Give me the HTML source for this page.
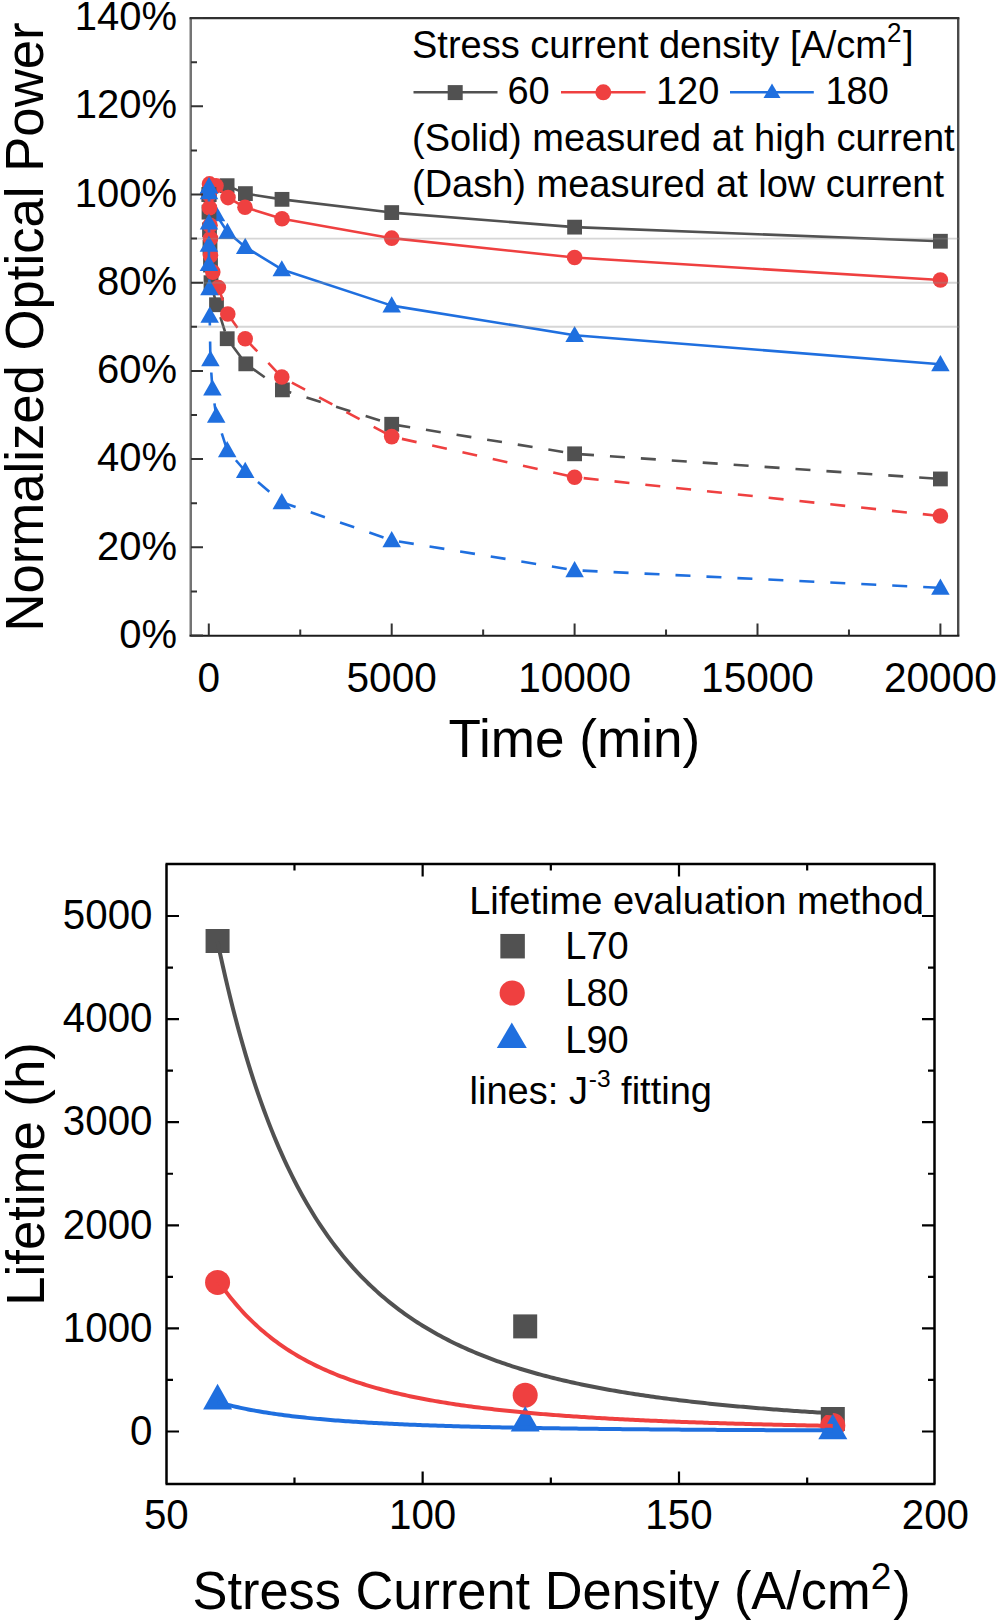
<!DOCTYPE html>
<html><head><meta charset="utf-8"><style>
html,body{margin:0;padding:0;background:#fff;}
svg{display:block;}
text{font-family:"Liberation Sans", sans-serif;fill:#000;}
</style></head><body>
<svg width="1000" height="1624" viewBox="0 0 1000 1624">
<rect width="1000" height="1624" fill="#fff"/>
<polyline points="209.00,194.50 227.10,185.68 245.40,193.62 282.00,199.35 391.70,212.58 574.60,227.13 940.40,241.25" fill="none" stroke="#515151" stroke-width="2.6" stroke-linejoin="round"/>
<rect x="201.60" y="187.10" width="14.8" height="14.8" fill="#515151"/><rect x="219.70" y="178.28" width="14.8" height="14.8" fill="#515151"/><rect x="238.00" y="186.22" width="14.8" height="14.8" fill="#515151"/><rect x="274.60" y="191.95" width="14.8" height="14.8" fill="#515151"/><rect x="384.30" y="205.18" width="14.8" height="14.8" fill="#515151"/><rect x="567.20" y="219.73" width="14.8" height="14.8" fill="#515151"/><rect x="933.00" y="233.85" width="14.8" height="14.8" fill="#515151"/>
<polyline points="209.00,194.50 209.50,183.92 216.00,185.68 228.00,197.59 245.00,207.29 282.00,218.75 391.70,238.16 574.60,257.56 940.40,280.05" fill="none" stroke="#EF4040" stroke-width="2.6" stroke-linejoin="round"/>
<circle cx="209.00" cy="194.50" r="7.8" fill="#EF4040"/><circle cx="209.50" cy="183.92" r="7.8" fill="#EF4040"/><circle cx="216.00" cy="185.68" r="7.8" fill="#EF4040"/><circle cx="228.00" cy="197.59" r="7.8" fill="#EF4040"/><circle cx="245.00" cy="207.29" r="7.8" fill="#EF4040"/><circle cx="282.00" cy="218.75" r="7.8" fill="#EF4040"/><circle cx="391.70" cy="238.16" r="7.8" fill="#EF4040"/><circle cx="574.60" cy="257.56" r="7.8" fill="#EF4040"/><circle cx="940.40" cy="280.05" r="7.8" fill="#EF4040"/>
<polyline points="209.00,186.56 216.00,214.34 227.40,231.99 245.20,246.98 281.80,269.47 391.70,305.63 574.60,335.18 940.40,364.28" fill="none" stroke="#1F6FDF" stroke-width="2.6" stroke-linejoin="round"/>
<path d="M209.00 177.26L218.25 193.46L199.75 193.46Z" fill="#1F6FDF"/><path d="M216.00 205.04L225.25 221.24L206.75 221.24Z" fill="#1F6FDF"/><path d="M227.40 222.69L236.65 238.89L218.15 238.89Z" fill="#1F6FDF"/><path d="M245.20 237.68L254.45 253.88L235.95 253.88Z" fill="#1F6FDF"/><path d="M281.80 260.17L291.05 276.37L272.55 276.37Z" fill="#1F6FDF"/><path d="M391.70 296.33L400.95 312.53L382.45 312.53Z" fill="#1F6FDF"/><path d="M574.60 325.88L583.85 342.08L565.35 342.08Z" fill="#1F6FDF"/><path d="M940.40 354.98L949.65 371.19L931.15 371.19Z" fill="#1F6FDF"/>
<polyline points="209.00,194.50 209.00,212.14 209.50,229.78 210.00,247.42 210.50,265.06 211.00,282.70 216.50,304.75 227.20,338.71 245.80,363.84 282.40,389.86 391.70,424.26 574.60,453.81 940.40,478.94" fill="none" stroke="#515151" stroke-width="2.6" stroke-dasharray="15 16" stroke-linejoin="round"/>
<rect x="201.60" y="187.10" width="14.8" height="14.8" fill="#515151"/><rect x="201.60" y="204.74" width="14.8" height="14.8" fill="#515151"/><rect x="202.10" y="222.38" width="14.8" height="14.8" fill="#515151"/><rect x="202.60" y="240.02" width="14.8" height="14.8" fill="#515151"/><rect x="203.10" y="257.66" width="14.8" height="14.8" fill="#515151"/><rect x="203.60" y="275.30" width="14.8" height="14.8" fill="#515151"/><rect x="209.10" y="297.35" width="14.8" height="14.8" fill="#515151"/><rect x="219.80" y="331.31" width="14.8" height="14.8" fill="#515151"/><rect x="238.40" y="356.44" width="14.8" height="14.8" fill="#515151"/><rect x="275.00" y="382.46" width="14.8" height="14.8" fill="#515151"/><rect x="384.30" y="416.86" width="14.8" height="14.8" fill="#515151"/><rect x="567.20" y="446.41" width="14.8" height="14.8" fill="#515151"/><rect x="933.00" y="471.55" width="14.8" height="14.8" fill="#515151"/>
<polyline points="209.00,194.50 209.50,207.73 210.00,225.37 210.50,238.60 210.50,255.36 212.80,272.12 218.30,287.55 227.80,314.01 245.20,338.71 281.80,377.07 391.70,436.61 574.60,477.18 940.40,515.99" fill="none" stroke="#EF4040" stroke-width="2.6" stroke-dasharray="15 16" stroke-linejoin="round"/>
<circle cx="209.00" cy="194.50" r="7.8" fill="#EF4040"/><circle cx="209.50" cy="207.73" r="7.8" fill="#EF4040"/><circle cx="210.00" cy="225.37" r="7.8" fill="#EF4040"/><circle cx="210.50" cy="238.60" r="7.8" fill="#EF4040"/><circle cx="210.50" cy="255.36" r="7.8" fill="#EF4040"/><circle cx="212.80" cy="272.12" r="7.8" fill="#EF4040"/><circle cx="218.30" cy="287.55" r="7.8" fill="#EF4040"/><circle cx="227.80" cy="314.01" r="7.8" fill="#EF4040"/><circle cx="245.20" cy="338.71" r="7.8" fill="#EF4040"/><circle cx="281.80" cy="377.07" r="7.8" fill="#EF4040"/><circle cx="391.70" cy="436.61" r="7.8" fill="#EF4040"/><circle cx="574.60" cy="477.18" r="7.8" fill="#EF4040"/><circle cx="940.40" cy="515.99" r="7.8" fill="#EF4040"/>
<polyline points="209.00,186.56 209.00,192.29 209.00,222.72 208.90,244.77 208.90,264.18 209.40,288.43 209.70,315.77 210.40,359.43 212.40,388.54 216.20,415.88 227.20,450.28 245.20,471.01 281.80,502.32 391.70,540.24 574.60,570.23 940.40,587.87" fill="none" stroke="#1F6FDF" stroke-width="2.6" stroke-dasharray="15 16" stroke-linejoin="round"/>
<path d="M209.00 177.26L218.25 193.46L199.75 193.46Z" fill="#1F6FDF"/><path d="M209.00 182.99L218.25 199.19L199.75 199.19Z" fill="#1F6FDF"/><path d="M209.00 213.42L218.25 229.62L199.75 229.62Z" fill="#1F6FDF"/><path d="M208.90 235.47L218.15 251.67L199.65 251.67Z" fill="#1F6FDF"/><path d="M208.90 254.88L218.15 271.08L199.65 271.08Z" fill="#1F6FDF"/><path d="M209.40 279.13L218.65 295.33L200.15 295.33Z" fill="#1F6FDF"/><path d="M209.70 306.47L218.95 322.68L200.45 322.68Z" fill="#1F6FDF"/><path d="M210.40 350.13L219.65 366.33L201.15 366.33Z" fill="#1F6FDF"/><path d="M212.40 379.24L221.65 395.44L203.15 395.44Z" fill="#1F6FDF"/><path d="M216.20 406.58L225.45 422.78L206.95 422.78Z" fill="#1F6FDF"/><path d="M227.20 440.98L236.45 457.18L217.95 457.18Z" fill="#1F6FDF"/><path d="M245.20 461.71L254.45 477.91L235.95 477.91Z" fill="#1F6FDF"/><path d="M281.80 493.02L291.05 509.22L272.55 509.22Z" fill="#1F6FDF"/><path d="M391.70 530.94L400.95 547.14L382.45 547.14Z" fill="#1F6FDF"/><path d="M574.60 560.93L583.85 577.13L565.35 577.13Z" fill="#1F6FDF"/><path d="M940.40 578.57L949.65 594.77L931.15 594.77Z" fill="#1F6FDF"/>
<line x1="191.0" y1="326.80" x2="959.4000000000001" y2="326.80" stroke="#8c8c8c" stroke-opacity="0.36" stroke-width="1.9"/>
<line x1="191.0" y1="282.70" x2="959.4000000000001" y2="282.70" stroke="#8c8c8c" stroke-opacity="0.36" stroke-width="1.9"/>
<line x1="191.0" y1="238.60" x2="959.4000000000001" y2="238.60" stroke="#8c8c8c" stroke-opacity="0.36" stroke-width="1.9"/>
<path d="M190.75 18.2V635.5" stroke="#747474" stroke-width="2.5"/>
<path d="M958.2 18.2V635.5" stroke="#4a4a4a" stroke-width="2.4"/>
<path d="M189.5 18.1H959.4" stroke="#303030" stroke-width="2.2"/>
<path d="M189.5 635.75H959.4" stroke="#1c1c1c" stroke-width="2.1"/>
<line x1="957.0" y1="326.80" x2="959.4000000000001" y2="326.80" stroke="#8c8c8c" stroke-opacity="0.36" stroke-width="1.9"/>
<line x1="957.0" y1="282.70" x2="959.4000000000001" y2="282.70" stroke="#8c8c8c" stroke-opacity="0.36" stroke-width="1.9"/>
<line x1="957.0" y1="238.60" x2="959.4000000000001" y2="238.60" stroke="#8c8c8c" stroke-opacity="0.36" stroke-width="1.9"/>
<path d="M191.0 635.50h12M191.0 591.40h6M191.0 547.30h12M191.0 503.20h6M191.0 459.10h12M191.0 415.00h6M191.0 370.90h12M191.0 326.80h6M191.0 282.70h12M191.0 238.60h6M191.0 194.50h12M191.0 150.40h6M191.0 106.30h12M191.0 62.20h6M191.0 18.10h12M208.80 635.5v-12M300.25 635.5v-6M391.70 635.5v-12M483.15 635.5v-6M574.60 635.5v-12M666.05 635.5v-6M757.50 635.5v-12M848.95 635.5v-6M940.40 635.5v-12" stroke="#333" stroke-width="2"/>
<text x="177.00" y="647.70" text-anchor="end" font-size="40.0" transform="matrix(1 0 0 1.035 0 -22.669)">0%</text>
<text x="177.00" y="559.50" text-anchor="end" font-size="40.0" transform="matrix(1 0 0 1.035 0 -19.582)">20%</text>
<text x="177.00" y="471.30" text-anchor="end" font-size="40.0" transform="matrix(1 0 0 1.035 0 -16.495)">40%</text>
<text x="177.00" y="383.10" text-anchor="end" font-size="40.0" transform="matrix(1 0 0 1.035 0 -13.408)">60%</text>
<text x="177.00" y="294.90" text-anchor="end" font-size="40.0" transform="matrix(1 0 0 1.035 0 -10.321)">80%</text>
<text x="177.00" y="206.70" text-anchor="end" font-size="40.0" transform="matrix(1 0 0 1.035 0 -7.234)">100%</text>
<text x="177.00" y="118.50" text-anchor="end" font-size="40.0" transform="matrix(1 0 0 1.035 0 -4.147)">120%</text>
<text x="177.00" y="30.30" text-anchor="end" font-size="40.0" transform="matrix(1 0 0 1.035 0 -1.060)">140%</text>
<text x="208.80" y="691.90" text-anchor="middle" font-size="40.6" transform="matrix(1 0 0 1.035 0 -24.216)">0</text>
<text x="391.70" y="691.90" text-anchor="middle" font-size="40.6" transform="matrix(1 0 0 1.035 0 -24.216)">5000</text>
<text x="574.60" y="691.90" text-anchor="middle" font-size="40.6" transform="matrix(1 0 0 1.035 0 -24.216)">10000</text>
<text x="757.50" y="691.90" text-anchor="middle" font-size="40.6" transform="matrix(1 0 0 1.035 0 -24.216)">15000</text>
<text x="940.40" y="691.90" text-anchor="middle" font-size="40.6" transform="matrix(1 0 0 1.035 0 -24.216)">20000</text>
<text x="574.30" y="757.00" text-anchor="middle" font-size="53.1" transform="matrix(1 0 0 1.02 0 -15.140)">Time (min)</text>
<text transform="translate(42.8 327) rotate(-90) matrix(1 0 0 1.02 0 0)" text-anchor="middle" font-size="52.7">Normalized Optical Power</text>
<text x="412.00" y="58.00" font-size="38.0" transform="matrix(1 0 0 1.03 0 -1.740)">Stress current density [A/cm<tspan dy="-16" font-size="26">2</tspan><tspan dy="16" dx="1.5">]</tspan></text>
<path d="M413.5 92.3H497.5" stroke="#515151" stroke-width="2.6"/><rect x="447.70" y="85.10" width="15" height="15" fill="#515151"/>
<text x="507.50" y="104.40" font-size="38.0" transform="matrix(1 0 0 1.03 0 -3.132)">60</text>
<path d="M561 92.3H645.6" stroke="#EF4040" stroke-width="2.6"/><circle cx="603.30" cy="92.30" r="8.0" fill="#EF4040"/>
<text x="656.00" y="104.40" font-size="38.0" transform="matrix(1 0 0 1.03 0 -3.132)">120</text>
<path d="M730 92.3H813.8" stroke="#1F6FDF" stroke-width="2.6"/><path d="M772.00 83.45L780.50 97.95L763.50 97.95Z" fill="#1F6FDF"/>
<text x="825.50" y="104.40" font-size="38.0" transform="matrix(1 0 0 1.03 0 -3.132)">180</text>
<text x="412.00" y="151.20" font-size="38.0" transform="matrix(1 0 0 1.03 0 -4.536)">(Solid) measured at high current</text>
<text x="412.00" y="197.00" font-size="38.0" transform="matrix(1 0 0 1.03 0 -5.910)">(Dash) measured at low current</text>
<rect x="205.57" y="929.00" width="24" height="24" fill="#515151"/>
<rect x="513.19" y="1314.40" width="24" height="24" fill="#515151"/>
<rect x="820.81" y="1407.00" width="24" height="24" fill="#515151"/>
<circle cx="217.57" cy="1282.40" r="12.5" fill="#EF4040"/>
<circle cx="525.19" cy="1395.20" r="12.5" fill="#EF4040"/>
<circle cx="832.81" cy="1425.50" r="12.5" fill="#EF4040"/>
<path d="M217.57 1383.80L232.07 1409.40L203.07 1409.40Z" fill="#1F6FDF"/>
<path d="M525.19 1406.00L539.69 1431.60L510.69 1431.60Z" fill="#1F6FDF"/>
<path d="M832.81 1413.70L847.31 1439.30L818.31 1439.30Z" fill="#1F6FDF"/>
<polyline points="217.57,941.78 220.13,953.82 222.70,965.47 225.26,976.74 227.82,987.66 230.39,998.22 232.95,1008.46 235.51,1018.37 238.08,1027.98 240.64,1037.29 243.21,1046.32 245.77,1055.07 248.33,1063.56 250.90,1071.80 253.46,1079.79 256.02,1087.55 258.59,1095.08 261.15,1102.40 263.71,1109.50 266.28,1116.40 268.84,1123.10 271.40,1129.62 273.97,1135.95 276.53,1142.11 279.09,1148.09 281.66,1153.92 284.22,1159.58 286.78,1165.09 289.35,1170.46 291.91,1175.68 294.48,1180.76 297.04,1185.71 299.60,1190.53 302.17,1195.22 304.73,1199.80 307.29,1204.25 309.86,1208.59 312.42,1212.83 314.98,1216.95 317.55,1220.97 320.11,1224.90 322.67,1228.72 325.24,1232.46 327.80,1236.10 330.36,1239.65 332.93,1243.12 335.49,1246.50 338.05,1249.80 340.62,1253.03 343.18,1256.18 345.75,1259.25 348.31,1262.26 350.87,1265.19 353.44,1268.06 356.00,1270.86 358.56,1273.60 361.13,1276.28 363.69,1278.89 366.25,1281.45 368.82,1283.95 371.38,1286.40 373.94,1288.79 376.51,1291.13 379.07,1293.42 381.63,1295.66 384.20,1297.85 386.76,1299.99 389.32,1302.09 391.89,1304.14 394.45,1306.15 397.01,1308.12 399.58,1310.05 402.14,1311.94 404.71,1313.79 407.27,1315.60 409.83,1317.37 412.40,1319.11 414.96,1320.81 417.52,1322.48 420.09,1324.12 422.65,1325.72 425.21,1327.29 427.78,1328.83 430.34,1330.34 432.90,1331.82 435.47,1333.27 438.03,1334.70 440.59,1336.09 443.16,1337.46 445.72,1338.80 448.29,1340.12 450.85,1341.42 453.41,1342.68 455.98,1343.93 458.54,1345.15 461.10,1346.35 463.67,1347.53 466.23,1348.68 468.79,1349.82 471.36,1350.93 473.92,1352.03 476.48,1353.10 479.05,1354.15 481.61,1355.19 484.17,1356.21 486.74,1357.21 489.30,1358.19 491.86,1359.15 494.43,1360.10 496.99,1361.03 499.56,1361.95 502.12,1362.85 504.68,1363.73 507.25,1364.60 509.81,1365.45 512.37,1366.29 514.94,1367.12 517.50,1367.93 520.06,1368.73 522.63,1369.51 525.19,1370.28 527.75,1371.04 530.32,1371.79 532.88,1372.52 535.44,1373.25 538.01,1373.96 540.57,1374.66 543.13,1375.34 545.70,1376.02 548.26,1376.69 550.83,1377.34 553.39,1377.99 555.95,1378.62 558.52,1379.24 561.08,1379.86 563.64,1380.46 566.21,1381.06 568.77,1381.65 571.33,1382.22 573.90,1382.79 576.46,1383.35 579.02,1383.90 581.59,1384.45 584.15,1384.98 586.71,1385.51 589.28,1386.03 591.84,1386.54 594.40,1387.04 596.97,1387.54 599.53,1388.03 602.10,1388.51 604.66,1388.98 607.22,1389.45 609.79,1389.91 612.35,1390.36 614.91,1390.81 617.48,1391.25 620.04,1391.68 622.60,1392.11 625.17,1392.53 627.73,1392.95 630.29,1393.36 632.86,1393.76 635.42,1394.16 637.98,1394.56 640.55,1394.94 643.11,1395.33 645.67,1395.70 648.24,1396.07 650.80,1396.44 653.37,1396.80 655.93,1397.16 658.49,1397.51 661.06,1397.86 663.62,1398.20 666.18,1398.54 668.75,1398.87 671.31,1399.20 673.87,1399.52 676.44,1399.84 679.00,1400.16 681.56,1400.47 684.13,1400.78 686.69,1401.08 689.25,1401.38 691.82,1401.67 694.38,1401.97 696.94,1402.25 699.51,1402.54 702.07,1402.82 704.63,1403.09 707.20,1403.37 709.76,1403.64 712.33,1403.90 714.89,1404.17 717.45,1404.43 720.02,1404.68 722.58,1404.93 725.14,1405.18 727.71,1405.43 730.27,1405.67 732.83,1405.92 735.40,1406.15 737.96,1406.39 740.52,1406.62 743.09,1406.85 745.65,1407.07 748.21,1407.30 750.78,1407.52 753.34,1407.74 755.90,1407.95 758.47,1408.16 761.03,1408.37 763.60,1408.58 766.16,1408.79 768.72,1408.99 771.29,1409.19 773.85,1409.39 776.41,1409.58 778.98,1409.78 781.54,1409.97 784.10,1410.16 786.67,1410.34 789.23,1410.53 791.79,1410.71 794.36,1410.89 796.92,1411.07 799.48,1411.25 802.05,1411.42 804.61,1411.59 807.17,1411.76 809.74,1411.93 812.30,1412.10 814.87,1412.26 817.43,1412.42 819.99,1412.58 822.56,1412.74 825.12,1412.90 827.68,1413.06 830.25,1413.21 832.81,1413.36" fill="none" stroke="#515151" stroke-width="4"/>
<polyline points="217.57,1279.94 220.13,1283.67 222.70,1287.28 225.26,1290.76 227.82,1294.14 230.39,1297.41 232.95,1300.58 235.51,1303.65 238.08,1306.62 240.64,1309.50 243.21,1312.30 245.77,1315.01 248.33,1317.63 250.90,1320.18 253.46,1322.66 256.02,1325.06 258.59,1327.39 261.15,1329.65 263.71,1331.85 266.28,1333.98 268.84,1336.06 271.40,1338.08 273.97,1340.04 276.53,1341.94 279.09,1343.79 281.66,1345.60 284.22,1347.35 286.78,1349.05 289.35,1350.71 291.91,1352.33 294.48,1353.90 297.04,1355.43 299.60,1356.93 302.17,1358.38 304.73,1359.79 307.29,1361.17 309.86,1362.52 312.42,1363.83 314.98,1365.10 317.55,1366.35 320.11,1367.56 322.67,1368.75 325.24,1369.90 327.80,1371.03 330.36,1372.13 332.93,1373.20 335.49,1374.25 338.05,1375.27 340.62,1376.27 343.18,1377.24 345.75,1378.19 348.31,1379.12 350.87,1380.03 353.44,1380.92 356.00,1381.79 358.56,1382.63 361.13,1383.46 363.69,1384.27 366.25,1385.06 368.82,1385.84 371.38,1386.59 373.94,1387.33 376.51,1388.06 379.07,1388.77 381.63,1389.46 384.20,1390.14 386.76,1390.80 389.32,1391.45 391.89,1392.09 394.45,1392.71 397.01,1393.32 399.58,1393.91 402.14,1394.50 404.71,1395.07 407.27,1395.63 409.83,1396.18 412.40,1396.72 414.96,1397.25 417.52,1397.76 420.09,1398.27 422.65,1398.76 425.21,1399.25 427.78,1399.73 430.34,1400.19 432.90,1400.65 435.47,1401.10 438.03,1401.54 440.59,1401.97 443.16,1402.40 445.72,1402.81 448.29,1403.22 450.85,1403.62 453.41,1404.01 455.98,1404.40 458.54,1404.78 461.10,1405.15 463.67,1405.51 466.23,1405.87 468.79,1406.22 471.36,1406.57 473.92,1406.90 476.48,1407.24 479.05,1407.56 481.61,1407.88 484.17,1408.20 486.74,1408.51 489.30,1408.81 491.86,1409.11 494.43,1409.40 496.99,1409.69 499.56,1409.98 502.12,1410.25 504.68,1410.53 507.25,1410.80 509.81,1411.06 512.37,1411.32 514.94,1411.58 517.50,1411.83 520.06,1412.07 522.63,1412.32 525.19,1412.56 527.75,1412.79 530.32,1413.02 532.88,1413.25 535.44,1413.47 538.01,1413.69 540.57,1413.91 543.13,1414.12 545.70,1414.33 548.26,1414.54 550.83,1414.74 553.39,1414.94 555.95,1415.13 558.52,1415.33 561.08,1415.52 563.64,1415.71 566.21,1415.89 568.77,1416.07 571.33,1416.25 573.90,1416.43 576.46,1416.60 579.02,1416.77 581.59,1416.94 584.15,1417.10 586.71,1417.27 589.28,1417.43 591.84,1417.59 594.40,1417.74 596.97,1417.89 599.53,1418.05 602.10,1418.19 604.66,1418.34 607.22,1418.49 609.79,1418.63 612.35,1418.77 614.91,1418.91 617.48,1419.04 620.04,1419.18 622.60,1419.31 625.17,1419.44 627.73,1419.57 630.29,1419.70 632.86,1419.82 635.42,1419.95 637.98,1420.07 640.55,1420.19 643.11,1420.31 645.67,1420.42 648.24,1420.54 650.80,1420.65 653.37,1420.76 655.93,1420.87 658.49,1420.98 661.06,1421.09 663.62,1421.19 666.18,1421.30 668.75,1421.40 671.31,1421.50 673.87,1421.60 676.44,1421.70 679.00,1421.80 681.56,1421.90 684.13,1421.99 686.69,1422.09 689.25,1422.18 691.82,1422.27 694.38,1422.36 696.94,1422.45 699.51,1422.54 702.07,1422.62 704.63,1422.71 707.20,1422.79 709.76,1422.88 712.33,1422.96 714.89,1423.04 717.45,1423.12 720.02,1423.20 722.58,1423.28 725.14,1423.36 727.71,1423.43 730.27,1423.51 732.83,1423.58 735.40,1423.66 737.96,1423.73 740.52,1423.80 743.09,1423.87 745.65,1423.94 748.21,1424.01 750.78,1424.08 753.34,1424.15 755.90,1424.21 758.47,1424.28 761.03,1424.34 763.60,1424.41 766.16,1424.47 768.72,1424.53 771.29,1424.60 773.85,1424.66 776.41,1424.72 778.98,1424.78 781.54,1424.84 784.10,1424.90 786.67,1424.95 789.23,1425.01 791.79,1425.07 794.36,1425.12 796.92,1425.18 799.48,1425.23 802.05,1425.29 804.61,1425.34 807.17,1425.39 809.74,1425.44 812.30,1425.50 814.87,1425.55 817.43,1425.60 819.99,1425.65 822.56,1425.70 825.12,1425.74 827.68,1425.79 830.25,1425.84 832.81,1425.89" fill="none" stroke="#EF4040" stroke-width="4"/>
<polyline points="217.57,1402.12 220.13,1402.84 222.70,1403.54 225.26,1404.21 227.82,1404.87 230.39,1405.50 232.95,1406.12 235.51,1406.71 238.08,1407.29 240.64,1407.85 243.21,1408.39 245.77,1408.91 248.33,1409.42 250.90,1409.92 253.46,1410.40 256.02,1410.86 258.59,1411.31 261.15,1411.75 263.71,1412.18 266.28,1412.59 268.84,1413.00 271.40,1413.39 273.97,1413.77 276.53,1414.14 279.09,1414.50 281.66,1414.85 284.22,1415.18 286.78,1415.52 289.35,1415.84 291.91,1416.15 294.48,1416.46 297.04,1416.75 299.60,1417.04 302.17,1417.32 304.73,1417.60 307.29,1417.87 309.86,1418.13 312.42,1418.38 314.98,1418.63 317.55,1418.87 320.11,1419.10 322.67,1419.33 325.24,1419.56 327.80,1419.78 330.36,1419.99 332.93,1420.20 335.49,1420.40 338.05,1420.60 340.62,1420.79 343.18,1420.98 345.75,1421.17 348.31,1421.35 350.87,1421.52 353.44,1421.69 356.00,1421.86 358.56,1422.03 361.13,1422.19 363.69,1422.34 366.25,1422.50 368.82,1422.65 371.38,1422.79 373.94,1422.94 376.51,1423.08 379.07,1423.21 381.63,1423.35 384.20,1423.48 386.76,1423.61 389.32,1423.74 391.89,1423.86 394.45,1423.98 397.01,1424.10 399.58,1424.21 402.14,1424.33 404.71,1424.44 407.27,1424.55 409.83,1424.65 412.40,1424.76 414.96,1424.86 417.52,1424.96 420.09,1425.06 422.65,1425.15 425.21,1425.25 427.78,1425.34 430.34,1425.43 432.90,1425.52 435.47,1425.61 438.03,1425.69 440.59,1425.78 443.16,1425.86 445.72,1425.94 448.29,1426.02 450.85,1426.09 453.41,1426.17 455.98,1426.25 458.54,1426.32 461.10,1426.39 463.67,1426.46 466.23,1426.53 468.79,1426.60 471.36,1426.67 473.92,1426.73 476.48,1426.80 479.05,1426.86 481.61,1426.92 484.17,1426.98 486.74,1427.04 489.30,1427.10 491.86,1427.16 494.43,1427.22 496.99,1427.27 499.56,1427.33 502.12,1427.38 504.68,1427.43 507.25,1427.49 509.81,1427.54 512.37,1427.59 514.94,1427.64 517.50,1427.69 520.06,1427.73 522.63,1427.78 525.19,1427.83 527.75,1427.87 530.32,1427.92 532.88,1427.96 535.44,1428.00 538.01,1428.05 540.57,1428.09 543.13,1428.13 545.70,1428.17 548.26,1428.21 550.83,1428.25 553.39,1428.29 555.95,1428.33 558.52,1428.36 561.08,1428.40 563.64,1428.44 566.21,1428.47 568.77,1428.51 571.33,1428.54 573.90,1428.58 576.46,1428.61 579.02,1428.64 581.59,1428.68 584.15,1428.71 586.71,1428.74 589.28,1428.77 591.84,1428.80 594.40,1428.83 596.97,1428.86 599.53,1428.89 602.10,1428.92 604.66,1428.95 607.22,1428.98 609.79,1429.00 612.35,1429.03 614.91,1429.06 617.48,1429.08 620.04,1429.11 622.60,1429.14 625.17,1429.16 627.73,1429.19 630.29,1429.21 632.86,1429.24 635.42,1429.26 637.98,1429.28 640.55,1429.31 643.11,1429.33 645.67,1429.35 648.24,1429.37 650.80,1429.40 653.37,1429.42 655.93,1429.44 658.49,1429.46 661.06,1429.48 663.62,1429.50 666.18,1429.52 668.75,1429.54 671.31,1429.56 673.87,1429.58 676.44,1429.60 679.00,1429.62 681.56,1429.64 684.13,1429.66 686.69,1429.67 689.25,1429.69 691.82,1429.71 694.38,1429.73 696.94,1429.75 699.51,1429.76 702.07,1429.78 704.63,1429.80 707.20,1429.81 709.76,1429.83 712.33,1429.84 714.89,1429.86 717.45,1429.88 720.02,1429.89 722.58,1429.91 725.14,1429.92 727.71,1429.94 730.27,1429.95 732.83,1429.96 735.40,1429.98 737.96,1429.99 740.52,1430.01 743.09,1430.02 745.65,1430.03 748.21,1430.05 750.78,1430.06 753.34,1430.07 755.90,1430.09 758.47,1430.10 761.03,1430.11 763.60,1430.12 766.16,1430.14 768.72,1430.15 771.29,1430.16 773.85,1430.17 776.41,1430.19 778.98,1430.20 781.54,1430.21 784.10,1430.22 786.67,1430.23 789.23,1430.24 791.79,1430.25 794.36,1430.26 796.92,1430.27 799.48,1430.28 802.05,1430.30 804.61,1430.31 807.17,1430.32 809.74,1430.33 812.30,1430.34 814.87,1430.35 817.43,1430.36 819.99,1430.37 822.56,1430.37 825.12,1430.38 827.68,1430.39 830.25,1430.40 832.81,1430.41" fill="none" stroke="#1F6FDF" stroke-width="4"/>
<path d="M165.5 864.0H935.5M934.5 864.0V1484.0M165.5 1484.0H935.5M166.5 864.0V1484.0" stroke="#000" stroke-width="2.5" fill="none"/>
<path d="M166.5 1431.50h12.5M934.5 1431.50h-12.5M166.5 1379.95h6.5M934.5 1379.95h-6.5M166.5 1328.40h12.5M934.5 1328.40h-12.5M166.5 1276.85h6.5M934.5 1276.85h-6.5M166.5 1225.30h12.5M934.5 1225.30h-12.5M166.5 1173.75h6.5M934.5 1173.75h-6.5M166.5 1122.20h12.5M934.5 1122.20h-12.5M166.5 1070.65h6.5M934.5 1070.65h-6.5M166.5 1019.10h12.5M934.5 1019.10h-12.5M166.5 967.55h6.5M934.5 967.55h-6.5M166.5 916.00h12.5M934.5 916.00h-12.5M294.48 1484.0v-6.5M294.48 864.0v6.5M422.65 1484.0v-12.5M422.65 864.0v12.5M550.83 1484.0v-6.5M550.83 864.0v6.5M679.00 1484.0v-12.5M679.00 864.0v12.5M807.17 1484.0v-6.5M807.17 864.0v6.5" stroke="#000" stroke-width="2.2"/>
<text x="152.50" y="1444.80" text-anchor="end" font-size="40.3" transform="matrix(1 0 0 1.035 0 -50.568)">0</text>
<text x="152.50" y="1341.70" text-anchor="end" font-size="40.3" transform="matrix(1 0 0 1.035 0 -46.959)">1000</text>
<text x="152.50" y="1238.60" text-anchor="end" font-size="40.3" transform="matrix(1 0 0 1.035 0 -43.351)">2000</text>
<text x="152.50" y="1135.50" text-anchor="end" font-size="40.3" transform="matrix(1 0 0 1.035 0 -39.742)">3000</text>
<text x="152.50" y="1032.40" text-anchor="end" font-size="40.3" transform="matrix(1 0 0 1.035 0 -36.134)">4000</text>
<text x="152.50" y="929.30" text-anchor="end" font-size="40.3" transform="matrix(1 0 0 1.035 0 -32.525)">5000</text>
<text x="166.30" y="1528.80" text-anchor="middle" font-size="40.3" transform="matrix(1 0 0 1.035 0 -53.508)">50</text>
<text x="422.65" y="1528.80" text-anchor="middle" font-size="40.3" transform="matrix(1 0 0 1.035 0 -53.508)">100</text>
<text x="679.00" y="1528.80" text-anchor="middle" font-size="40.3" transform="matrix(1 0 0 1.035 0 -53.508)">150</text>
<text x="935.35" y="1528.80" text-anchor="middle" font-size="40.3" transform="matrix(1 0 0 1.035 0 -53.508)">200</text>
<text x="192.50" y="1609.50" font-size="52.4" transform="matrix(1 0 0 1.02 0 -32.190)">Stress Current Density (A/cm<tspan dy="-20" font-size="37">2</tspan><tspan dy="20" dx="2">)</tspan></text>
<text transform="translate(44.3 1174) rotate(-90) matrix(1 0 0 1.02 0 0)" text-anchor="middle" font-size="52.7">Lifetime (h)</text>
<text x="469.20" y="913.50" font-size="38.05">Lifetime evaluation method</text>
<rect x="500.35" y="933.95" width="24.5" height="24.5" fill="#515151"/>
<text x="565.30" y="959.20" font-size="38.05">L70</text>
<circle cx="512.20" cy="993.00" r="12.6" fill="#EF4040"/>
<text x="565.30" y="1005.80" font-size="38.05">L80</text>
<path d="M511.80 1022.40L526.80 1048.00L496.80 1048.00Z" fill="#1F6FDF"/>
<text x="565.30" y="1052.60" font-size="38.05">L90</text>
<text x="469.50" y="1104.00" font-size="38.05">lines: J<tspan dy="-17.5" dx="0.8" font-size="24.5">-3</tspan><tspan dy="17.5"> fitting</tspan></text>
</svg>
</body></html>
